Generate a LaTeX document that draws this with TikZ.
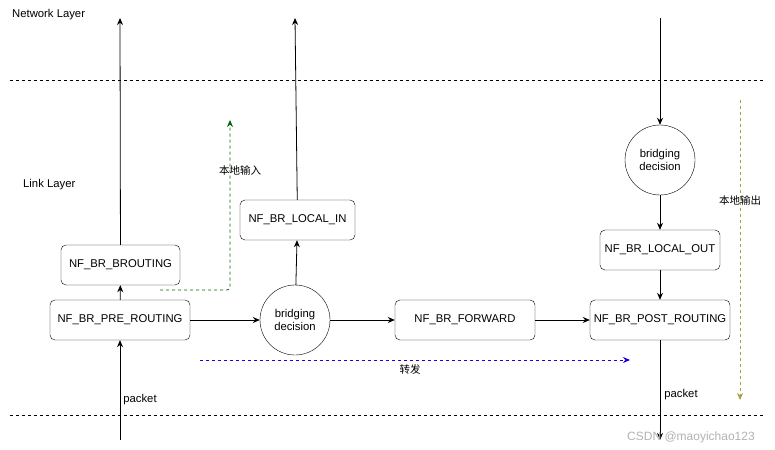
\documentclass[tikz,border=0pt]{standalone}
\usepackage{fontspec}
\setmainfont{Liberation Sans}
\newfontfamily\cjk{Noto Sans CJK SC}
\usetikzlibrary{arrows.meta}
\begin{document}
\begin{tikzpicture}[x=1pt,y=-1pt,font=\fontsize{11.3}{13.5}\selectfont,
 box/.style={draw,rounded corners=5pt,minimum height=40pt,inner sep=1pt},
 dec/.style={draw,circle,minimum size=70pt,align=center,inner sep=0pt},
 arr/.style={-{Stealth[length=7pt,width=6pt]},line width=0.8pt},
 sep/.style={dashed,line width=0.6pt},
 lbl/.style={inner sep=1pt},
 cj/.style={lbl,font=\cjk\fontsize{10.5}{12}\selectfont}]
\useasboundingbox (0,0) rectangle (775,449);
\draw[sep] (10,80) -- (765,80);
\draw[sep] (10,415) -- (765,415);
\node[lbl,anchor=west] (nl) at (11,15) {Network Layer};
\node[lbl,anchor=west] (ll) at (22,185) {Link Layer};
\node[box,minimum width=119pt] (brt) at (120.5,265) {NF\_BR\_BROUTING};
\node[box,minimum width=140pt] (pre) at (120,320) {NF\_BR\_PRE\_ROUTING};
\node[dec] (d1) at (295,320) {bridging\\decision};
\node[box,minimum width=115pt] (lin) at (297.5,220) {NF\_BR\_LOCAL\_IN};
\node[box,minimum width=140pt] (fwd) at (465,320) {NF\_BR\_FORWARD};
\node[box,minimum width=140pt] (post) at (660,320) {NF\_BR\_POST\_ROUTING};
\node[dec] (d2) at (660,160) {bridging\\decision};
\node[box,minimum width=120pt] (lout) at (660,250) {NF\_BR\_LOCAL\_OUT};
\coordinate (pin) at (120,440);
\coordinate (brtop) at (120,18);
\coordinate (litop) at (295,18);
\coordinate (d2in) at (660,18);
\coordinate (pout) at (660,440);
\draw[arr] (pin) -- (pre);
\draw[arr] (pre) -- (brt);
\draw[arr] (brt) -- (brtop);
\draw[arr] (pre) -- (d1);
\draw[arr] (d1) -- (lin);
\draw[arr] (lin) -- (litop);
\draw[arr] (d1) -- (fwd);
\draw[arr] (fwd) -- (post);
\draw[arr] (d2in) -- (d2);
\draw[arr] (d2) -- (lout);
\draw[arr] (lout) -- (post);
\draw[arr] (post) -- (pout);
\node[lbl] (pk1) at (140,400) {packet};
\node[lbl] (pk2) at (681,395) {packet};
\coordinate (g1) at (160,290);
\coordinate (g2) at (230,120);
\draw[arr,sep,line width=0.8pt,color=green!40!black,rounded corners=3pt] (g1) -| (g2);
\node[cj] (t1) at (240,170) {本地输入};
\coordinate (b1) at (200,360);
\coordinate (b2) at (630,360);
\draw[arr,sep,line width=0.8pt,color=blue!80!violet] (b1) -- (b2);
\node[cj] (t2) at (410,370) {转发};
\coordinate (y1) at (740,100);
\coordinate (y2) at (740,400);
\draw[arr,sep,line width=0.8pt,color=yellow!60!black] (y1) -- (y2);
\node[cj] (t3) at (740,200) {本地输出};
\node[lbl,text=gray!60,font=\fontsize{12}{14}\selectfont] (wm) at (691,437) {CSDN @maoyichao123};
\end{tikzpicture}
\end{document}
